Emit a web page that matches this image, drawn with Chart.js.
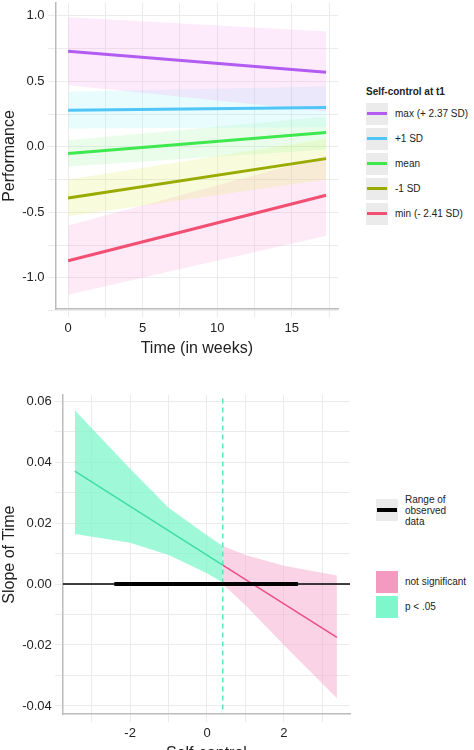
<!DOCTYPE html>
<html><head><meta charset="utf-8">
<script src="https://cdn.jsdelivr.net/npm/chart.js@4"></script>
<style>
body{margin:0;width:474px;height:750px;background:#fff;font-family:"Liberation Sans",Arial,sans-serif;position:relative;overflow:hidden}
.c{position:absolute;left:0}
.lg{position:absolute;font-size:10px;color:#222}
.row{display:flex;align-items:center;height:25px}
.key{width:22px;height:22px;background:#ebebeb;display:flex;align-items:center;justify-content:center;margin-right:7px}
.key i{display:block;width:20px;height:3px}
</style></head><body>
<div class="c" style="top:-8px;width:346px;height:366px"><canvas id="top"></canvas></div>
<div class="c" style="top:373px;width:356px;height:390px"><canvas id="bot"></canvas></div>
<div class="lg" style="left:366px;top:86px">
 <div style="font-weight:bold;margin-bottom:4px">Self-control at t1</div>
 <div id="lgTop"></div>
</div>
<div class="lg" style="left:376px;top:495px">
 <div class="row" style="height:30px"><div class="key"><i style="background:#000;height:4px"></i></div><div style="line-height:11px">Range of<br>observed<br>data</div></div>
 <div style="height:44px"></div>
 <div class="row"><div class="key" style="background:#f49ac0"></div>not significant</div>
 <div class="row"><div class="key" style="background:#7ff7cc"></div>p &lt; .05</div>
</div>
<script>
// panel 1: simple slopes
const weeks=[0,17.3];
const groups=["max (+ 2.37 SD)","+1 SD","mean","-1 SD","min (- 2.41 SD)"];
const colors=["#b25cf2","#4fc6f5","#3fe84e","#9aab00","#f24f73"];
const bands=["rgba(245,150,235,0.2)","rgba(140,240,250,0.2)","rgba(150,245,150,0.2)","rgba(230,240,120,0.25)","rgba(245,150,210,0.2)"];
const fit=[[0.73,0.57],[0.28,0.30],[-0.05,0.11],[-0.39,-0.09],[-0.87,-0.37]];
const upper=[[0.99,0.88],[0.42,0.46],[0.05,0.23],[-0.25,0.06],[-0.60,-0.07]];
const lower=[[0.47,0.27],[0.14,0.15],[-0.15,-0.02],[-0.53,-0.25],[-1.13,-0.68]];

// panel 2: Johnson-Neyman
const jnX=[-3.44,-2,-1,0,0.41];
const jnUp=[0.057,0.0378,0.025,0.016,0.0125];
const jnLo=[0.0164,0.0135,0.0095,0.0035,0.0005];
const nsX=[0.41,1,2,3.38];
const nsUp=[0.0125,0.0095,0.006,0.0028];
const nsLo=[0.0,-0.007,-0.02,-0.0375];
const slopeX=[-3.44,0.41,3.38];
const slopeY=[0.037,0.0062,-0.0175];
const jnPoint=0.41;
const observed=[-2.41,2.37];

const pts=(xs,ys)=>xs.map((x,i)=>({x,y:ys[i]}));
const grid={color:"#ebebeb",lineWidth:1};
const tickFont={size:13,family:"Liberation Sans"};
const titleFont={size:16,family:"Liberation Sans"};
function setTicks(vals){return ax=>{ax.ticks=vals.map(v=>({value:v}));};}
function range(a,b,s){const r=[];for(let v=a;v<=b+1e-9;v+=s)r.push(+v.toFixed(4));return r;}

const ds1=[];
groups.forEach((g,i)=>{
  ds1.push({data:pts(weeks,upper[i]),borderWidth:0,pointRadius:0,fill:false});
  ds1.push({data:pts(weeks,lower[i]),borderWidth:0,pointRadius:0,fill:"-1",backgroundColor:bands[i]});
});
groups.forEach((g,i)=>{
  ds1.push({label:g,data:pts(weeks,fit[i]),borderColor:colors[i],borderWidth:3,pointRadius:0,fill:false});
});
new Chart(document.getElementById("top"),{
  type:"line",data:{datasets:ds1},
  options:{animation:false,responsive:true,maintainAspectRatio:false,
    layout:{padding:{top:0,right:8}},
    plugins:{legend:{display:false},tooltip:{enabled:false},filler:{drawTime:"beforeDatasetsDraw"}},
    scales:{
      x:{type:"linear",min:-0.84,max:18.1,afterBuildTicks:setTicks(range(0,17.5,2.5)),
        grid,border:{color:"#bbb",width:1.5},
        ticks:{font:tickFont,color:"#222",callback:v=>v%5===0?v:""},
        title:{display:true,text:"Time (in weeks)",font:titleFont,color:"#222",padding:0}},
      y:{min:-1.24,max:1.1,afterBuildTicks:setTicks(range(-1.25,1,0.25)),
        grid,border:{color:"#bbb",width:1.5},
        ticks:{font:tickFont,color:"#222",callback:v=>Math.abs(v*2-Math.round(v*2))<1e-6?v.toFixed(1):""},
        title:{display:true,text:"Performance",font:titleFont,color:"#222",padding:0}}
    }}
});
document.getElementById("lgTop").innerHTML=groups.map((g,i)=>
  `<div class="row"><div class="key"><i style="background:${colors[i]}"></i></div>${g}</div>`).join("");

new Chart(document.getElementById("bot"),{
  type:"line",
  data:{datasets:[
    {data:pts(jnX,jnUp),borderWidth:0,pointRadius:0,fill:false},
    {data:pts(jnX,jnLo),borderWidth:0,pointRadius:0,fill:"-1",backgroundColor:"rgba(127,247,204,0.75)"},
    {data:pts(nsX,nsUp),borderWidth:0,pointRadius:0,fill:false},
    {data:pts(nsX,nsLo),borderWidth:0,pointRadius:0,fill:"-1",backgroundColor:"rgba(246,170,205,0.5)"},
    {data:[{x:-3.75,y:0},{x:3.72,y:0}],borderColor:"#000",borderWidth:1.5,pointRadius:0},
    {data:pts(observed,[0,0]),borderColor:"#000",borderWidth:4,pointRadius:0},
    {data:pts(slopeX.slice(0,2),slopeY.slice(0,2)),borderColor:"#3fdca6",borderWidth:1.5,pointRadius:0},
    {data:pts(slopeX.slice(1),slopeY.slice(1)),borderColor:"#ec4f86",borderWidth:1.5,pointRadius:0},
    {data:[{x:jnPoint,y:-0.05},{x:jnPoint,y:0.07}],borderColor:"#5ee3bf",borderWidth:1.5,borderDash:[5,4],pointRadius:0}
  ]},
  options:{animation:false,responsive:true,maintainAspectRatio:false,
    layout:{padding:{top:22,right:6}},
    plugins:{legend:{display:false},tooltip:{enabled:false},filler:{drawTime:"beforeDatasetsDraw"}},
    scales:{
      x:{type:"linear",min:-3.75,max:3.72,afterBuildTicks:setTicks([-3,-2,-1,0,1,2,3]),
        grid,border:{color:"#bbb",width:1.5},
        ticks:{font:tickFont,color:"#222",callback:v=>v%2===0?v:""},
        title:{display:true,text:"Self-control",font:titleFont,color:"#222",padding:0}},
      y:{min:-0.0427,max:0.062,afterBuildTicks:setTicks(range(-0.04,0.06,0.01)),
        grid,border:{color:"#bbb",width:1.5},
        ticks:{font:tickFont,color:"#222",callback:v=>Math.round(v*100)%2===0?v.toFixed(2):""},
        title:{display:true,text:"Slope of Time",font:titleFont,color:"#222",padding:0}}
    }}
});
</script>
</body></html>
